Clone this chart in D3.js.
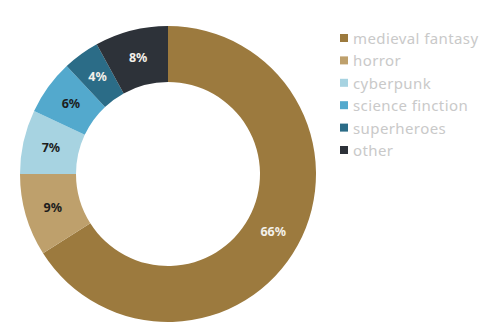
<!DOCTYPE html>
<html>
<head>
<meta charset="utf-8">
<script src="https://cdn.jsdelivr.net/npm/d3@7"></script>
<style>
  body { margin: 0; background: #fff; }
  text { font-family: "Noto Sans", sans-serif; }
</style>
</head>
<body>
<div id="canvas"></div>
<script>
"use strict"

/* Data */
let genres = ["medieval fantasy", "horror", "cyberpunk", "science finction", "superheroes", "other"];
let shares = [66, 9, 7, 6, 4, 8];
let colors = ["#9c7a3e", "#bea06c", "#a7d3e1", "#53a9cd", "#2b6c87", "#2d3239"];
let labelColors = ["#f3f0ea", "#1d1d1d", "#1d1d1d", "#1d1d1d", "#f3f0ea", "#f3f0ea"];

/* Configuration variables: drawing */
let svgWidth = 500;
let svgHeight = 331;
let cx = 168;
let cy = 174;
let outerRadius = 148;
let innerRadius = 92;

let svg = d3.select("#canvas")
    .append("svg")
    .attr("width", svgWidth)
    .attr("height", svgHeight);

let dataset = genres.map(function (g, i) {
    return { genre: g, value: shares[i] };
});

let color = d3.scaleOrdinal().domain(genres).range(colors);
let labelColor = d3.scaleOrdinal().domain(genres).range(labelColors);

let pie = d3.pie()
    .sort(null)
    .value(function (d) { return d.value; });

let arc = d3.arc()
    .innerRadius(innerRadius)
    .outerRadius(outerRadius);

let donut = svg.append("g")
    .attr("transform", "translate(" + cx + "," + cy + ")");

let slices = donut.selectAll("g.slice")
    .data(pie(dataset))
    .join("g")
    .attr("class", "slice");

slices.append("path")
    .attr("d", arc)
    .attr("fill", function (d) { return color(d.data.genre); });

slices.append("text")
    .attr("transform", function (d) { return "translate(" + arc.centroid(d) + ")"; })
    .attr("text-anchor", "middle")
    .attr("dominant-baseline", "central")
    .attr("font-size", "12.5px")
    .attr("font-weight", "bold")
    .attr("fill", function (d) { return labelColor(d.data.genre); })
    .text(function (d) { return d.data.value + "%"; });

/**** legend ****/
let legendY = d3.scalePoint()
    .domain(genres)
    .range([38, 150]);

let legend = svg.append("g")
    .selectAll("g")
    .data(genres)
    .join("g")
    .attr("transform", function (g) { return "translate(340," + legendY(g) + ")"; });

legend.append("rect")
    .attr("x", 0)
    .attr("y", -4)
    .attr("width", 8)
    .attr("height", 8)
    .attr("fill", function (g) { return color(g); });

legend.append("text")
    .attr("x", 13)
    .attr("dominant-baseline", "central")
    .attr("font-size", "15px")
    .attr("letter-spacing", "0.4px")
    .attr("fill", "#c9c9c9")
    .text(function (g) { return g; });
</script>
</body>
</html>
